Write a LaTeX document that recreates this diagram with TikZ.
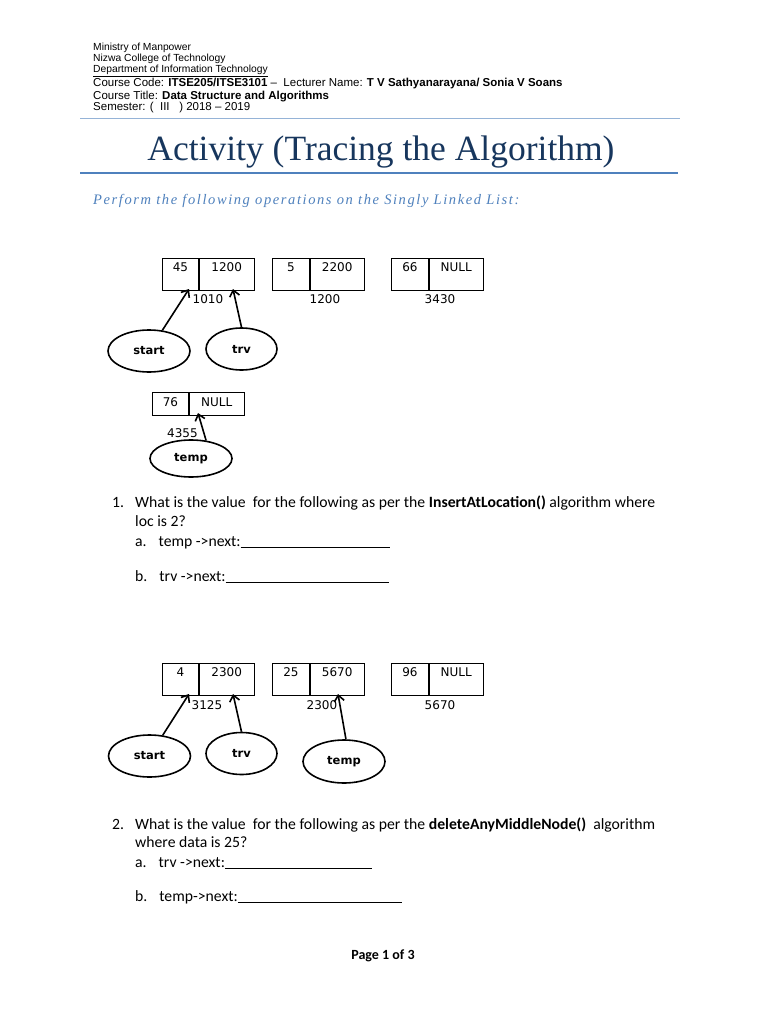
\documentclass[tikz,border=0pt]{standalone}
\usepackage{fontspec}
\setmainfont{Carlito}
\newfontfamily\headfont{Liberation Sans}
\newfontfamily\titlefont{Liberation Serif}
\newfontfamily\subfont[LetterSpace=11]{Liberation Serif}
\newfontfamily\boxfont{DejaVu Sans}
\usetikzlibrary{positioning,shapes.geometric,arrows.meta}
\definecolor{titleblue}{HTML}{17365D}
\definecolor{accent}{HTML}{4F81BD}
\definecolor{headrule}{HTML}{95B3D7}
\newcommand{\blankline}[1]{\underline{\hspace{#1pt}}}
\tikzset{
  head/.style={anchor=base west,inner sep=0pt,font=\headfont\fontsize{10.3}{12}\selectfont},
  bighead/.style={head,font=\headfont\fontsize{11.5}{13}\selectfont},
  txt/.style={anchor=base west,inner sep=0pt,font=\fontsize{15.7}{18}\selectfont},
  cell/.style={draw,line width=0.8pt,minimum height=32pt,text height=12pt,text depth=18pt,inner sep=1pt,font=\boxfont\fontsize{12}{14}\selectfont},
  small cell/.style={cell,minimum height=23pt,text height=13.5pt,text depth=7.5pt},
  addr/.style={inner sep=0pt,anchor=base,font=\boxfont\fontsize{12}{14}\selectfont},
  var/.style={draw,ellipse,line width=1.6pt,minimum width=82pt,minimum height=42pt,inner sep=0pt,font=\boxfont\bfseries\fontsize{11.5}{13}\selectfont},
  ptr/.style={-{Straight Barb[length=6pt,width=10pt]},line width=1.6pt}
}
\begin{document}
\begin{tikzpicture}[x=1pt,y=-1pt]
\useasboundingbox[fill=white] (0,0) rectangle (768,1024);
% header
\node[head] (h1) at (93,51) {Ministry of Manpower};
\node[head] (h2) at (93,62) {Nizwa College of Technology};
\node[head] (h3) at (93,72.5) {\underline{Department of Information Technology}};
\node[bighead] (h4) at (93,87) {Course Code: \textbf{ITSE205/ITSE3101} – \ Lecturer Name: \textbf{T V Sathyanarayana/ Sonia V Soans}};
\node[bighead] (h5) at (93,99.5) {Course Title: \textbf{Data Structure and Algorithms}};
\node[bighead] (h6) at (93,111) {Semester: ( \ III \ \ ) 2018 – 2019};
\draw[headrule,line width=0.8pt] (80,118) -- (680,118);
% title
\node[anchor=base,inner sep=0pt,text=titleblue,font=\titlefont\fontsize{35.5}{42}\selectfont] (title) at (381,161) {Activity (Tracing the Algorithm)};
\draw[accent,line width=1.5pt] (80,173) -- (678,173);
\node[anchor=base west,inner sep=0pt,text=accent,font=\subfont\itshape\fontsize{14.5}{17}\selectfont] (sub) at (93,205) {Perform the following operations on the Singly Linked List:};
% list 1
\node[cell,minimum width=36pt,anchor=north west] (a1) at (162,258) {45};
\node[cell,minimum width=55pt,right=0pt of a1] (b1) {1200};
\node[cell,minimum width=37pt,anchor=north west] (a2) at (272,258) {5};
\node[cell,minimum width=54pt,right=0pt of a2] (b2) {2200};
\node[cell,minimum width=37pt,anchor=north west] (a3) at (391,258) {66};
\node[cell,minimum width=54pt,right=0pt of a3] (b3) {NULL};
\node[addr] (m1) at (208,303) {1010};
\node[addr] (m2) at (325,303) {1200};
\node[addr] (m3) at (440,303) {3430};
\node[var] (start1) at (149,351) {start};
\node[var,minimum width=71pt] (trv1) at (241.5,349) {trv};
\coordinate (p1) at (189,289);
\coordinate (q1) at (233,289);
\draw[ptr] (start1) -- (p1);
\draw[ptr] (trv1.north) -- (q1);
\node[small cell,minimum width=36pt,anchor=north west] (a4) at (152,392) {76};
\node[small cell,minimum width=55pt,right=0pt of a4] (b4) {NULL};
\node[addr] (m4) at (182.5,437) {4355};
\node[var,minimum height=37pt] (temp1) at (191,458.5) {temp};
\coordinate (r1) at (198,413);
\draw[ptr] (temp1.50) -- (r1);
% question 1
\node[txt] (n1) at (112,507) {1.};
\node[txt] (q1a) at (135,507) {What is the value \ for the following as per the \textbf{InsertAtLocation()} algorithm where};
\node[txt] (q1b) at (135,526) {loc is 2?};
\node[txt] (q1c) at (135,546) {a.\hspace{12pt}temp ->next:\blankline{149}};
\node[txt] (q1d) at (135,581) {b.\hspace{12pt}trv ->next:\blankline{163}};
% list 2
\node[cell,minimum width=36pt,anchor=north west] (a5) at (162,663) {4};
\node[cell,minimum width=55pt,right=0pt of a5] (b5) {2300};
\node[cell,minimum width=37pt,anchor=north west] (a6) at (272,663) {25};
\node[cell,minimum width=54pt,right=0pt of a6] (b6) {5670};
\node[cell,minimum width=37pt,anchor=north west] (a7) at (391,663) {96};
\node[cell,minimum width=54pt,right=0pt of a7] (b7) {NULL};
\node[addr] (m5) at (207,709) {3125};
\node[addr] (m6) at (322,709) {2300};
\node[addr] (m7) at (440,709) {5670};
\node[var] (start2) at (149.5,756) {start};
\node[var,minimum width=71pt] (trv2) at (241.5,753.5) {trv};
\node[var,minimum height=43pt] (temp2) at (344,761.5) {temp};
\coordinate (p2) at (189,694);
\coordinate (q2) at (233,694);
\coordinate (r2) at (338,694);
\draw[ptr] (start2) -- (p2);
\draw[ptr] (trv2.north) -- (q2);
\draw[ptr] (temp2.85) -- (r2);
% question 2
\node[txt] (n2) at (112,829) {2.};
\node[txt] (q2a) at (135,829) {What is the value \ for the following as per the \textbf{deleteAnyMiddleNode()} \ algorithm};
\node[txt] (q2b) at (135,847) {where data is 25?};
\node[txt] (q2c) at (135,867) {a.\hspace{12pt}trv ->next:\blankline{147}};
\node[txt] (q2d) at (135,901) {b.\hspace{12pt}temp->next:\blankline{164}};
% footer
\node[anchor=base,inner sep=0pt,font=\bfseries\fontsize{14}{16}\selectfont] (page) at (383,959) {Page 1 of 3};
\end{tikzpicture}
\end{document}
